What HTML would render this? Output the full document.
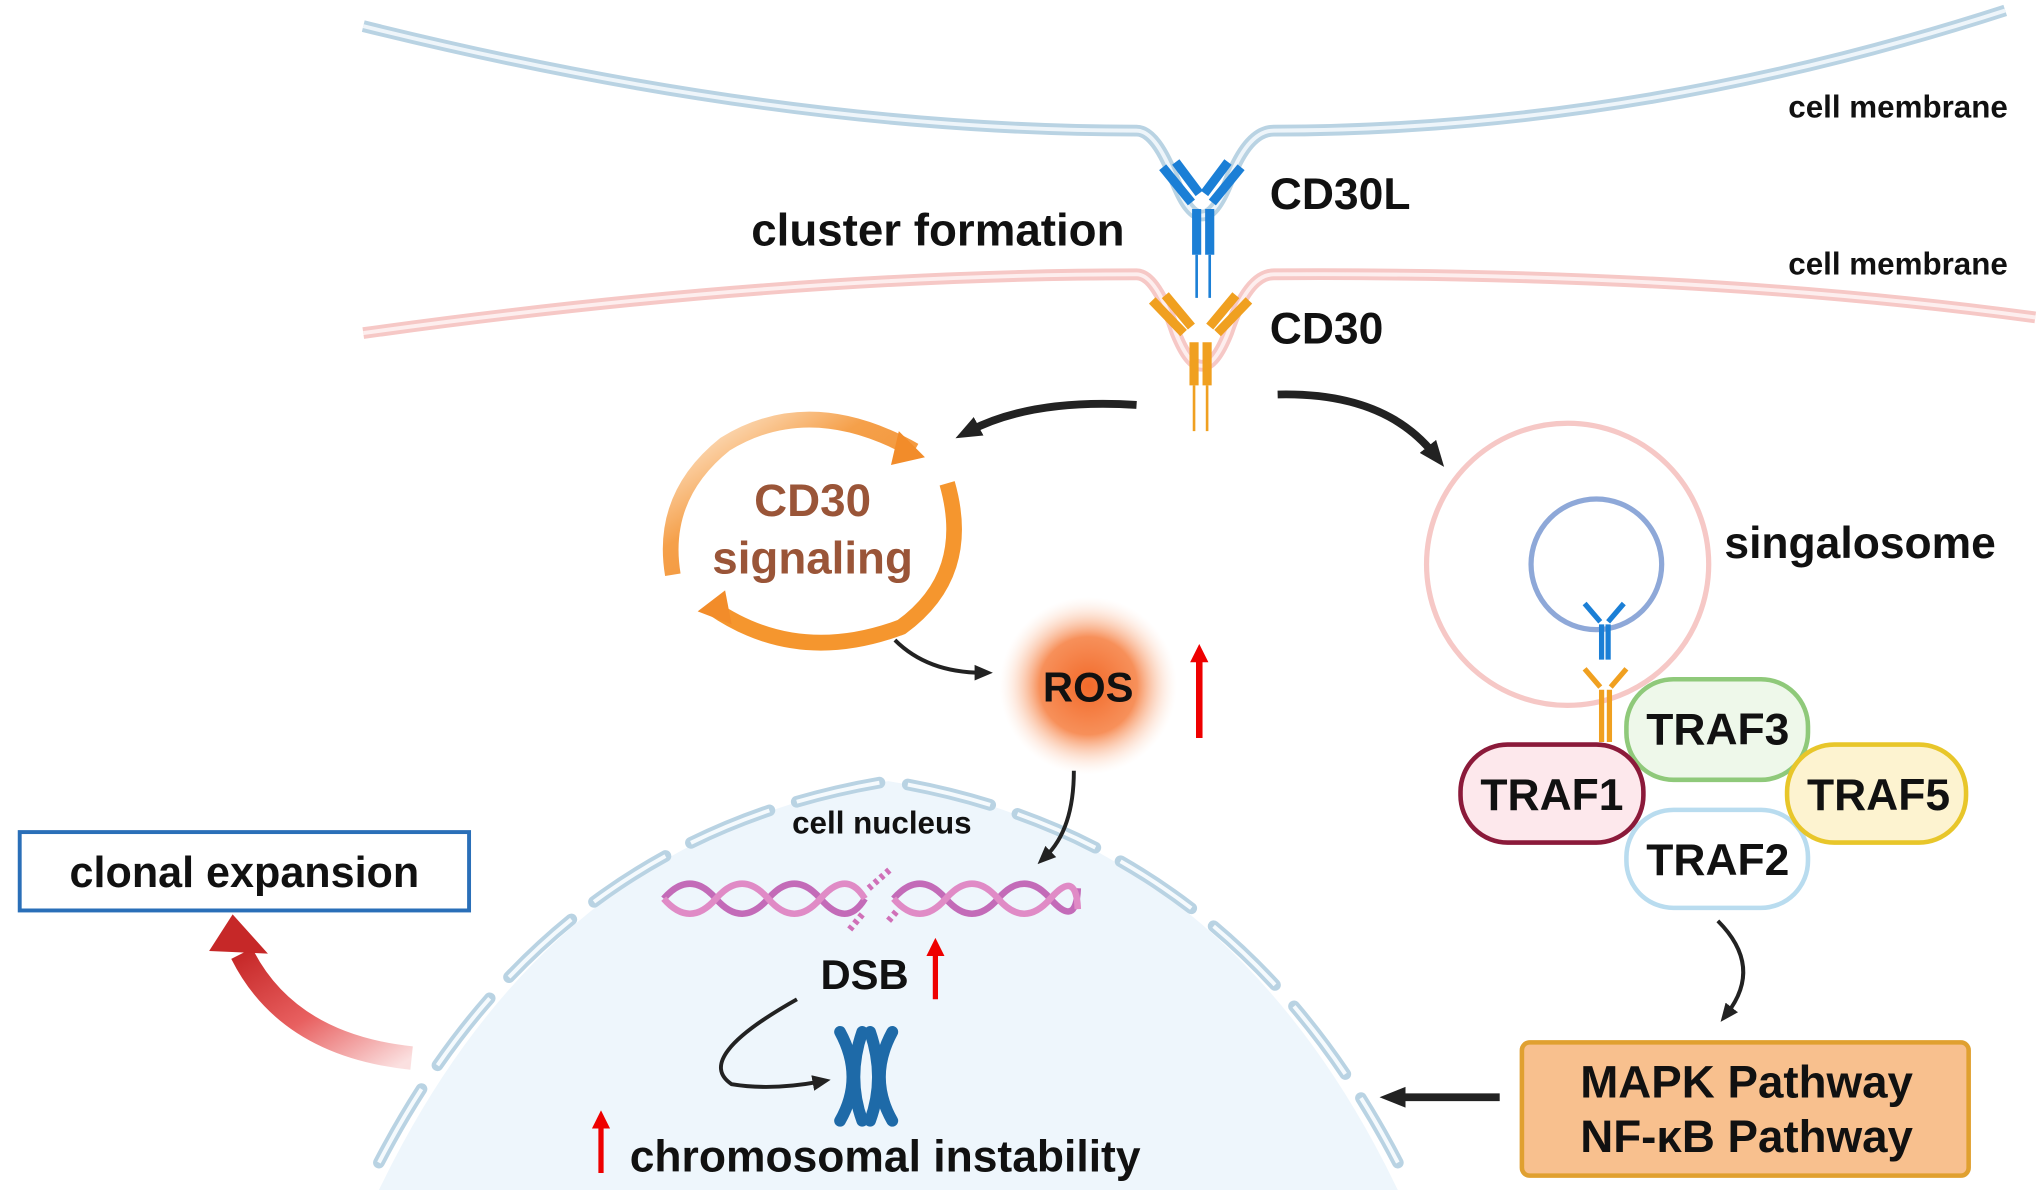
<!DOCTYPE html>
<html><head><meta charset="utf-8"><style>
html,body{margin:0;padding:0;background:#fff;}
svg{display:block;}
text{font-family:"Liberation Sans",sans-serif;font-weight:bold;}
</style></head><body>
<svg width="2038" height="1190" viewBox="0 0 1560 911" xmlns="http://www.w3.org/2000/svg">
<defs>
<radialGradient id="ros" cx="50%" cy="50%" r="50%">
<stop offset="0" stop-color="#f26a2a"/><stop offset="0.55" stop-color="#f7905a"/><stop offset="1" stop-color="#fde3d4" stop-opacity="0"/>
</radialGradient>
<linearGradient id="ring" x1="0" y1="0" x2="1" y2="1">
<stop offset="0" stop-color="#fff3e6"/><stop offset="0.4" stop-color="#f5a04a"/><stop offset="1" stop-color="#f28c2a"/>
</linearGradient>
<linearGradient id="redarr" x1="1" y1="1" x2="0" y2="0">
<stop offset="0" stop-color="#fbe0e0"/><stop offset="0.5" stop-color="#e86060"/><stop offset="1" stop-color="#c62828"/>
</linearGradient>
<marker id="ah" markerUnits="userSpaceOnUse" markerWidth="20" markerHeight="20" refX="8" refY="10" orient="auto"><path d="M0,2 L20,10 L0,18 z" fill="#222"/></marker>
<marker id="ahs" markerUnits="userSpaceOnUse" markerWidth="14" markerHeight="14" refX="6" refY="7" orient="auto"><path d="M0,1 L14,7 L0,13 z" fill="#222"/></marker>
<marker id="rh" markerUnits="userSpaceOnUse" markerWidth="14" markerHeight="14" refX="2" refY="7" orient="auto"><path d="M0,0 L14,7 L0,14 z" fill="#e00"/></marker>
</defs>

<!-- membranes -->
<g fill="none">
<path d="M278,20 Q600,100 870,100 Q885,100 900,140 Q920,190 940,140 Q955,100 975,100 Q1250,100 1535,8" stroke="#b9d3e3" stroke-width="9"/>
<path d="M278,20 Q600,100 870,100 Q885,100 900,140 Q920,190 940,140 Q955,100 975,100 Q1250,100 1535,8" stroke="#eef5fa" stroke-width="3"/>
<path d="M278,255 Q600,210 870,210 Q885,210 900,255 Q920,305 940,255 Q955,210 975,210 Q1300,208 1558,243" stroke="#f6c8c6" stroke-width="9"/>
<path d="M278,255 Q600,210 870,210 Q885,210 900,255 Q920,305 940,255 Q955,210 975,210 Q1300,208 1558,243" stroke="#fdeeee" stroke-width="3"/>
</g>
<text x="1537" y="90" font-size="24" text-anchor="end" fill="#111">cell membrane</text>
<text x="1537" y="210" font-size="24" text-anchor="end" fill="#111">cell membrane</text>
<text x="972" y="160" font-size="34" fill="#111">CD30L</text>
<text x="972" y="263" font-size="34" fill="#111">CD30</text>
<text x="575" y="188" font-size="35" fill="#111">cluster formation</text>

<!-- receptors -->
<g stroke="#1b7fd6" stroke-width="7" fill="none">
<path d="M890,128 L912,155 M900,124 L918,148 M950,128 L928,155 M940,124 L922,148"/>
<path d="M916,160 V195 M926,160 V195"/>
</g>
<g stroke="#1b7fd6" stroke-width="2"><path d="M916,195 V228 M926,195 V228"/></g>
<g stroke="#f0a020" stroke-width="7" fill="none">
<path d="M882,230 L906,255 M892,226 L912,250 M956,230 L932,255 M946,226 L926,250"/>
<path d="M914,262 V295 M924,262 V295"/>
</g>
<g stroke="#f0a020" stroke-width="2"><path d="M914,295 V330 M924,295 V330"/></g>

<!-- CD30 signaling ring -->
<path d="M700,345 Q620,300 555,340 Q505,380 515,440" fill="none" stroke="url(#ring)" stroke-width="12"/>
<path d="M545,465 Q610,510 690,480 Q745,440 725,370" fill="none" stroke="#f5962e" stroke-width="12"/>
<path d="M688,330 L708,350 L682,356 z" fill="#f28c2a"/>
<path d="M555,452 L534,468 L560,478 z" fill="#f28c2a"/>
<text x="622" y="395" font-size="35" text-anchor="middle" fill="#9a5538">CD30</text>
<text x="622" y="439" font-size="35" text-anchor="middle" fill="#9a5538">signaling</text>

<!-- ROS -->
<circle cx="833" cy="525" r="68" fill="url(#ros)"/>
<text x="833" y="537" font-size="32" text-anchor="middle" fill="#111">ROS</text>
<path d="M918,565 V505" stroke="#e00" stroke-width="5" marker-end="url(#rh)"/>

<!-- nucleus -->
<path d="M290,911 Q420,640 680,598 Q940,640 1070,911 Z" fill="#eef6fc"/>
<path d="M290,890 Q420,640 680,598 Q940,640 1070,890" fill="none" stroke="#b9d3e3" stroke-width="9" stroke-dasharray="65,22" stroke-linecap="round"/>
<path d="M290,890 Q420,640 680,598 Q940,640 1070,890" fill="none" stroke="#f5fafd" stroke-width="3" stroke-dasharray="65,22"/>
<text x="675" y="638" font-size="24" text-anchor="middle" fill="#111">cell nucleus</text>

<!-- black arrows -->
<g fill="none" stroke="#222" stroke-width="6" marker-end="url(#ah)">
<path d="M870,310 Q790,305 742,330"/>
<path d="M978,302 Q1060,300 1098,348"/>
<path d="M1148,840 H1068"/>
</g>
<g fill="none" stroke="#222" stroke-width="3" marker-end="url(#ahs)">
<path d="M685,490 Q710,515 752,515"/>
<path d="M822,590 Q822,635 800,656"/>
<path d="M1315,705 Q1350,740 1322,776"/>
<path d="M610,765 Q530,810 560,830 Q590,835 628,828"/>
</g>

<!-- DNA -->
<g fill="none" stroke-width="5">
<path d="M508,688 Q528,665 548,688 T588,688 T628,688 T662,688" stroke="#c36bb8"/>
<path d="M508,688 Q528,711 548,688 T588,688 T628,688 T662,688" stroke="#e08bc6"/>
<path d="M684,688 Q704,665 724,688 T764,688 T804,688 T825,680" stroke="#c36bb8"/>
<path d="M684,688 Q704,711 724,688 T764,688 T804,688 T825,696" stroke="#e08bc6"/>
<path d="M665,680 L682,665 M660,700 L650,712 M686,698 L680,705" stroke="#d070b8" stroke-dasharray="3,3"/>
</g>
<text x="628" y="757" font-size="32" fill="#111">DSB</text>
<path d="M716,765 V730" stroke="#e00" stroke-width="4" marker-end="url(#rh)"/>

<!-- chromosome -->
<g stroke="#1e6aa8" stroke-width="9" stroke-linecap="round" fill="none">
<path d="M643,790 Q662,825 643,858"/><path d="M660,790 Q648,825 660,858"/>
<path d="M666,790 Q678,825 666,858"/><path d="M683,790 Q664,825 683,858"/>
</g>

<path d="M460,898 V862" stroke="#e00" stroke-width="4" marker-end="url(#rh)"/>
<text x="482" y="897" font-size="34" fill="#111">chromosomal instability</text>

<!-- clonal expansion -->
<rect x="15" y="637" width="344" height="60" fill="#fff" stroke="#2a6fb8" stroke-width="3"/>
<text x="187" y="679" font-size="33" text-anchor="middle" fill="#111">clonal expansion</text>
<path d="M315,810 Q220,800 185,730" fill="none" stroke="url(#redarr)" stroke-width="18"/>
<path d="M160,728 L178,700 L205,730 z" fill="#c62828"/>

<!-- singalosome -->
<circle cx="1200" cy="432" r="108" fill="none" stroke="#f6c8c6" stroke-width="4"/>
<circle cx="1222" cy="432" r="50" fill="none" stroke="#8ea8d8" stroke-width="4"/>
<text x="1320" y="427" font-size="34" fill="#111">singalosome</text>
<g stroke="#1b7fd6" stroke-width="4" fill="none"><path d="M1213,462 L1225,476 M1243,462 L1231,476 M1226,478 V505 M1231,478 V505"/></g>
<g stroke="#f0a020" stroke-width="4" fill="none"><path d="M1213,512 L1225,526 M1245,512 L1233,526 M1226,528 V568 M1232,528 V568"/></g>

<!-- TRAFs -->
<rect x="1245" y="520" width="139" height="77" rx="36" fill="#eef8ea" stroke="#8fc97a" stroke-width="3.5"/>
<rect x="1245" y="620" width="139" height="75" rx="36" fill="#fff" stroke="#b9dcef" stroke-width="3.5"/>
<rect x="1368" y="570" width="137" height="75" rx="36" fill="#fdf3d0" stroke="#e8c62a" stroke-width="3.5"/>
<rect x="1118" y="570" width="140" height="75" rx="36" fill="#fde8ec" stroke="#8b1a3a" stroke-width="3.5"/>
<text x="1315" y="570" font-size="34" text-anchor="middle" fill="#111">TRAF3</text>
<text x="1315" y="670" font-size="34" text-anchor="middle" fill="#111">TRAF2</text>
<text x="1438" y="620" font-size="34" text-anchor="middle" fill="#111">TRAF5</text>
<text x="1188" y="620" font-size="34" text-anchor="middle" fill="#111">TRAF1</text>

<!-- MAPK box -->
<rect x="1165" y="798" width="342" height="102" rx="6" fill="#f8c08e" stroke="#e0a030" stroke-width="3.5"/>
<text x="1337" y="840" font-size="35" text-anchor="middle" fill="#111">MAPK Pathway</text>
<text x="1337" y="882" font-size="35" text-anchor="middle" fill="#111">NF-κB Pathway</text>
</svg>
</body></html>
